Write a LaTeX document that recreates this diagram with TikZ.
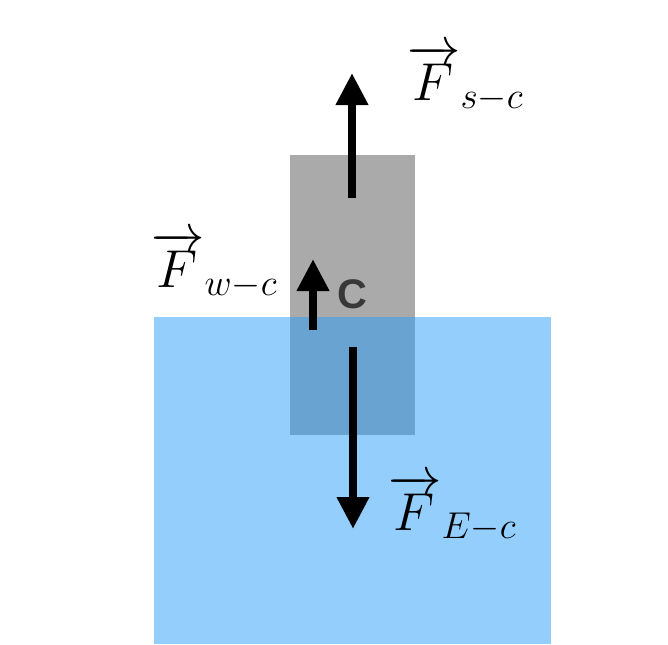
\documentclass[tikz,border=0pt]{standalone}
\usepackage{fix-cm}
\usepackage{fontspec}
\newfontfamily\labelsans{Liberation Sans}
\usetikzlibrary{arrows.meta}
\definecolor{blockgray}{HTML}{AAAAAA}
\definecolor{waterblue}{RGB}{41,157,251}
\definecolor{cgray}{HTML}{383838}
\newcommand{\forcelabel}[1]{$\overrightarrow{F\hspace{0.03em}}_{\mbox{\fontsize{28}{30}\selectfont$#1$}}$}
\begin{document}
\begin{tikzpicture}[x=0.75pt,y=-0.75pt,
  force/.style={line width=6pt,-{Triangle[length=24pt,width=23pt]}},
  flabel/.style={inner sep=0pt,anchor=base west,font=\fontsize{40}{46}\selectfont}]
\useasboundingbox (0,0) rectangle (668,644);
% block
\node[fill=blockgray,draw=none,minimum width=93.75pt,minimum height=210pt,inner sep=0pt,anchor=north west] (block) at (290,155) {};
% water
\node[fill=waterblue,fill opacity=0.5,draw=none,minimum width=297.75pt,minimum height=245.25pt,inner sep=0pt,anchor=north west] (water) at (154,317) {};
% force arrows
\coordinate (sc0) at (352,198);
\coordinate (sc1) at (352,73);
\coordinate (wc0) at (313,330);
\coordinate (wc1) at (313,259);
\coordinate (ec0) at (353,347);
\coordinate (ec1) at (353,529);
\draw[force] (sc0) -- (sc1);
\draw[force] (wc0) -- (wc1);
\draw[force] (ec0) -- (ec1);
% labels
\node[inner sep=0pt,text=cgray,font=\labelsans\bfseries\fontsize{31}{34}\selectfont] (c) at (352,294.5) {C};
\node[flabel] (lsc) at (407,100) {\forcelabel{s{-}c}};
\node[flabel] (lwc) at (151,287) {\forcelabel{w{-}c}};
\node[flabel] (lec) at (388,530) {\forcelabel{E{-}c}};
\end{tikzpicture}
\end{document}
